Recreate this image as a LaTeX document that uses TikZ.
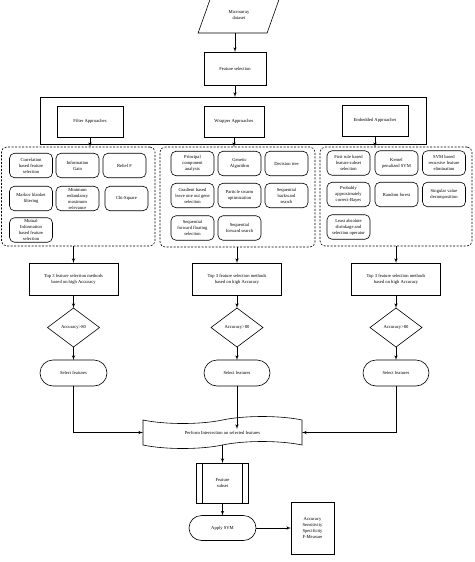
\documentclass[tikz,border=0pt]{standalone}
\usepackage{fontspec}
\setmainfont{Liberation Serif}
\usepackage{tikz}
\usetikzlibrary{arrows,shapes.geometric,shapes.symbols}

\begin{document}
\begin{tikzpicture}[->,>=latex',x=1pt,y=-1pt,line width=0.6pt,
				every node/.style={font=\fontsize{4.6}{6}\selectfont,align=center,inner sep=1pt,outer sep=0pt},
				data node/.style={trapezium,draw,trapezium left angle=65,trapezium right angle=115,trapezium stretches=true,minimum width=82pt,minimum height=36pt},
				proc node/.style={rectangle,draw,minimum width=62pt,minimum height=33pt},
				group node/.style={rectangle,draw,dash pattern=on 2pt off 1.5pt,rounded corners=5pt},
				item node/.style={rectangle,draw,rounded corners=5pt,inner sep=0.5pt,minimum width=43pt,minimum height=24.5pt},
				dec node/.style={diamond,draw,aspect=1.33,inner sep=0pt,minimum width=52pt,minimum height=39pt},
				term node/.style={rectangle,draw,rounded corners=13pt,minimum width=66pt,minimum height=26pt}]
				
				\useasboundingbox (0,0) rectangle (474,562);
				
				\node[data node] (data) at (239,15) {Microarray\\dataset};
				\node[proc node] (fs) at (235,68.5) {Feature selection};
				\node[rectangle,draw,minimum width=386pt,minimum height=47pt] (appr) at (233,120.5) {};
				\node[proc node,minimum width=66pt,minimum height=31pt] (filt) at (90,121.5) {Filter Approaches};
				\node[proc node,minimum width=60pt,minimum height=31pt] (wrap) at (234,121.5) {Wrapper Approaches};
				\node[proc node,minimum width=66pt,minimum height=31pt] (emb) at (375,120.5) {Embedded Approaches};
				
				% dashed groups
				\node[group node,minimum width=153.5pt,minimum height=99pt] (grp1) at (78.25,196.5) {};
				\node[group node,minimum width=155pt,minimum height=100pt] (grp2) at (237.5,197) {};
				\node[group node,minimum width=152pt,minimum height=99pt] (grp3) at (396,196.5) {};
				
				% filter methods
				\node[item node] (f1) at (31,165.5) {Correlation\\based feature\\selection};
				\node[item node] (f2) at (77.5,165.5) {Information\\Gain};
				\node[item node] (f3) at (124.5,165.5) {Relief F};
				\node[item node] (f4) at (31,198.5) {Markov blanket\\filtering};
				\node[item node] (f5) at (77.5,198.5) {Minimum\\redundancy\\maximum\\relevance};
				\node[item node] (f6) at (126.5,198.5) {Chi-Square};
				\node[item node] (f7) at (31,230) {Mutual\\Information\\based feature\\selection};
				
				% wrapper methods
				\node[item node] (w1) at (192.5,163.5) {Principal\\component\\analysis};
				\node[item node] (w2) at (239.5,163.5) {Genetic\\Algorithm};
				\node[item node] (w3) at (286.5,163.5) {Decision tree};
				\node[item node] (w4) at (192.5,195.5) {Gradient based\\leave one out gene\\selection};
				\node[item node] (w5) at (239.5,195.5) {Particle swarm\\optimization};
				\node[item node] (w6) at (286.5,195.5) {Sequential\\backward\\search};
				\node[item node] (w7) at (192.5,228) {Sequential\\forward floating\\selection};
				\node[item node] (w8) at (239.5,228) {Sequential\\forward search};
				
				% embedded methods
				\node[item node] (e1) at (348.5,163) {First rule based\\feature subset\\selection};
				\node[item node] (e2) at (396.5,163) {Kernel\\penalized SVM};
				\node[item node] (e3) at (444,163) {SVM based\\recursive feature\\elimination};
				\node[item node] (e4) at (348.5,194.5) {Probably\\approximately\\correct-Bayes};
				\node[item node] (e5) at (396.5,194.5) {Random forest};
				\node[item node] (e6) at (444,194.5) {Singular value\\decomposition};
				\node[item node] (e7) at (348.5,227) {Least absolute\\shrinkage and\\selection operator};
				
				\node[proc node,minimum width=89pt,minimum height=32pt] (top1) at (73.5,279) {Top 3 feature selection methods\\based on high Accuracy};
				\node[proc node,minimum width=89pt,minimum height=32pt] (top2) at (237,279) {Top 3 feature selection methods\\based on high Accuracy};
				\node[proc node,minimum width=89pt,minimum height=32pt] (top3) at (396,279) {Top 3 feature selection methods\\based on high Accuracy};
				
				\node[dec node] (acc1) at (73.5,327.5) {Accuracy>80};
				\node[dec node] (acc2) at (237,327.5) {Accuracy>80};
				\node[dec node] (acc3) at (396,327.5) {Accuracy>80};
				
				\node[term node,minimum width=67pt] (sel1) at (73.5,373) {Select features};
				\node[term node] (sel2) at (237,373) {Select features};
				\node[term node] (sel3) at (396,373) {Select features};
				
				\node[tape,draw,minimum width=159pt,minimum height=32pt,tape bend height=7pt] (inter) at (222.5,432.5) {Perform Intersection on selected features};
				\node[rectangle,draw,minimum width=52pt,minimum height=40pt] (sub) at (222.5,483) {Feature\\subset};
				\node[term node,minimum width=67pt,minimum height=25pt,rounded corners=12.5pt] (svm) at (222.5,528) {Apply SVM};
				\node[rectangle,draw,minimum width=43pt,minimum height=52pt] (res) at (312.5,528) {Accuracy\\Sensitivity\\Specificity\\F-Measure};
				
				\draw[-] ([xshift=6pt]sub.north west) -- ([xshift=6pt]sub.south west);
				\draw[-] ([xshift=-6pt]sub.north east) -- ([xshift=-6pt]sub.south east);
				
				\coordinate (in2) at (inter.north -| sel2.south);
				
				\path
				(data.south -| fs.north) edge (fs.north)
				(fs.south) edge (fs.south |- appr.north)
				(filt.south) edge (filt.south |- grp1.north)
				(wrap.south) edge (wrap.south |- grp2.north)
				(emb.south) edge (emb.south |- grp3.north)
				(grp1.south -| top1.north) edge (top1.north)
				(grp2.south -| top2.north) edge (top2.north)
				(grp3.south -| top3.north) edge (top3.north)
				(top1) edge (acc1)
				(top2) edge (acc2)
				(top3) edge (acc3)
				(acc1) edge (sel1)
				(acc2) edge (sel2)
				(acc3) edge (sel3)
				(sel2.south) edge ([yshift=-9pt]in2)
				(inter) edge (sub)
				(sub) edge (svm)
				(svm) edge (res);
				
				\draw (sel1.south) |- (inter.west);
				\draw (sel3.south) |- (inter.east);
				
				\end{tikzpicture}
\end{document}
